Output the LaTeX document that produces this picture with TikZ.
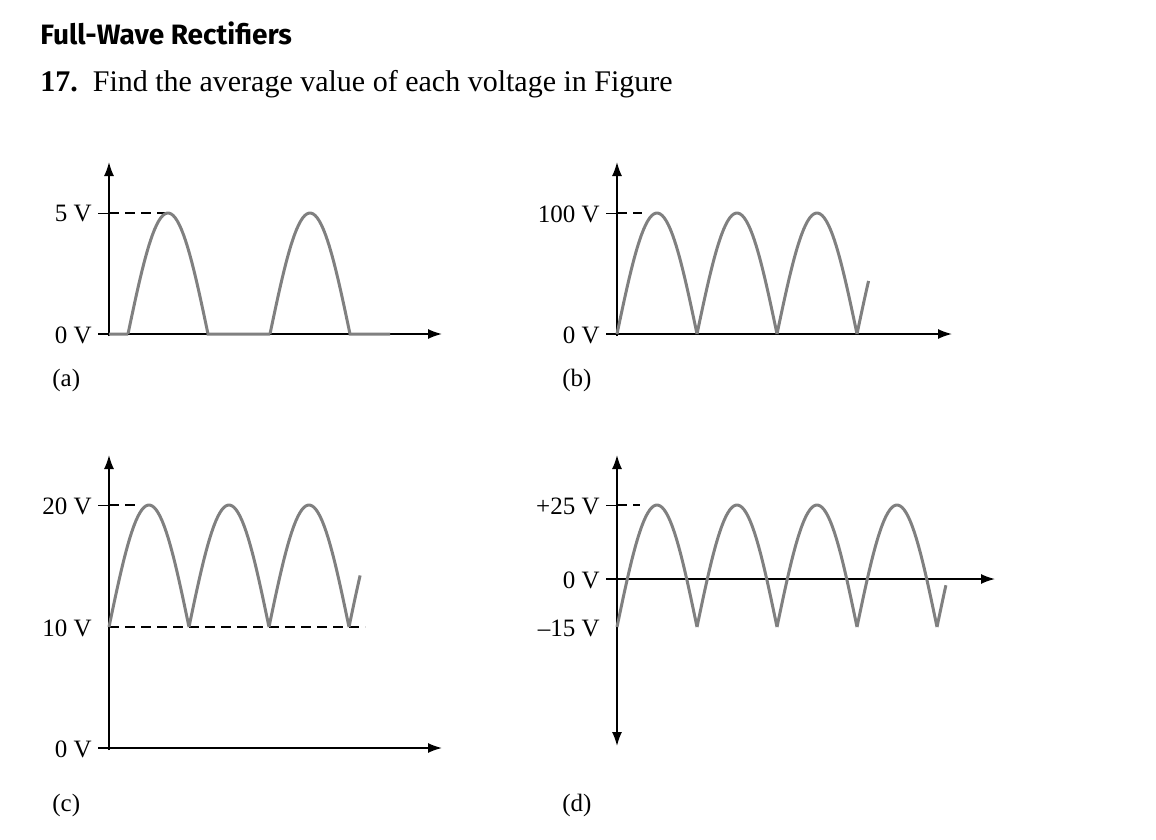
\documentclass[tikz,border=0pt]{standalone}
\usepackage{fontspec}
\setmainfont{Liberation Serif}
\newfontfamily\titlefont{Fira Sans}
\usetikzlibrary{arrows.meta}
\begin{document}
\begin{tikzpicture}[x=0.5pt,y=-0.5pt,
  ax/.style={line width=0.8pt,-{Latex[length=7pt,width=5pt]}},
  wave/.style={line width=1.5pt,draw={rgb,255:red,128;green,128;blue,128}},
  dsh/.style={line width=0.6pt,dash pattern=on 5pt off 3pt},
  lab/.style={anchor=east,font=\fontsize{12.5}{14}\selectfont,inner sep=1pt},
  panelcap/.style={anchor=west,font=\fontsize{12.5}{14}\selectfont,inner sep=0pt}]
\useasboundingbox (0,0) rectangle (1156,840);
\node[anchor=west,inner sep=0pt,font=\titlefont\bfseries\fontsize{14}{16}\selectfont] (title) at (40,33) {Full-Wave Rectifiers};
\node[anchor=west,inner sep=0pt,font=\fontsize{15}{17}\selectfont] (q) at (40,84) {\textbf{17.}\ \ Find the average value of each voltage in Figure};
% (a)
\draw[ax] (109,336) -- (109,162);
\draw[ax] (98,334) -- (442,334);
\draw (98,213) -- (109,213);
\draw[dsh] (109,213) -- (165,213);
\node[lab] (a5) at (94,214) {5 V};
\node[lab] (a0) at (94,335) {0 V};
\draw[wave] (109,334) -- (128,334) plot[domain=0:180,samples=40] ({128+80*\x/180},{334-121*sin(\x)}) -- (270,334)
  plot[domain=0:180,samples=40] ({270+80*\x/180},{334-121*sin(\x)}) -- (390,334);
\node[panelcap] (ca) at (52,380) {(a)};
% (b)
\draw[ax] (617,336) -- (617,162);
\draw[ax] (606,334) -- (952,334);
\draw (606,213) -- (617,213);
\draw[dsh] (617,213) -- (642,213);
\node[lab] (b100) at (602,214) {100 V};
\node[lab] (b0) at (602,335) {0 V};
\draw[wave] plot[domain=0:180,samples=40] ({617+80*\x/180},{334-121*sin(\x)})
  plot[domain=0:180,samples=40] ({697+80*\x/180},{334-121*sin(\x)})
  plot[domain=0:180,samples=40] ({777+80*\x/180},{334-121*sin(\x)})
  plot[domain=0:26,samples=10] ({857+80*\x/180},{334-121*sin(\x)});
\node[panelcap] (cb) at (562,380) {(b)};
% (c)
\draw[ax] (109,750) -- (109,455);
\draw[ax] (98,748) -- (442,748);
\draw (98,505) -- (109,505);
\draw[dsh] (109,505) -- (135,505);
\draw[dsh] (109,627) -- (365,627);
\node[lab] (c20) at (94,506) {20 V};
\node[lab] (c10) at (94,628) {10 V};
\node[lab] (c0) at (94,749) {0 V};
\draw[wave] plot[domain=0:180,samples=40] ({109+80*\x/180},{627-122*sin(\x)})
  plot[domain=0:180,samples=40] ({189+80*\x/180},{627-122*sin(\x)})
  plot[domain=0:180,samples=40] ({269+80*\x/180},{627-122*sin(\x)})
  plot[domain=0:25,samples=10] ({349+80*\x/180},{627-122*sin(\x)});
\node[panelcap] (cc) at (52,805) {(c)};
% (d)
\draw[ax] (617,580) -- (617,455);
\draw[ax] (617,580) -- (617,746);
\draw[ax] (606,579) -- (995,579);
\draw (606,505) -- (617,505);
\draw[dsh] (617,505) -- (640,505);
\node[lab] (d25) at (602,506) {+25 V};
\node[lab] (d0) at (602,580) {0 V};
\node[lab] (d15) at (602,628) {\textendash15 V};
\draw[wave] plot[domain=0:180,samples=40] ({617+80*\x/180},{627-122*sin(\x)})
  plot[domain=0:180,samples=40] ({697+80*\x/180},{627-122*sin(\x)})
  plot[domain=0:180,samples=40] ({777+80*\x/180},{627-122*sin(\x)})
  plot[domain=0:180,samples=40] ({857+80*\x/180},{627-122*sin(\x)})
  plot[domain=0:20,samples=10] ({937+80*\x/180},{627-122*sin(\x)});
\node[panelcap] (cd) at (562,805) {(d)};
\end{tikzpicture}
\end{document}
